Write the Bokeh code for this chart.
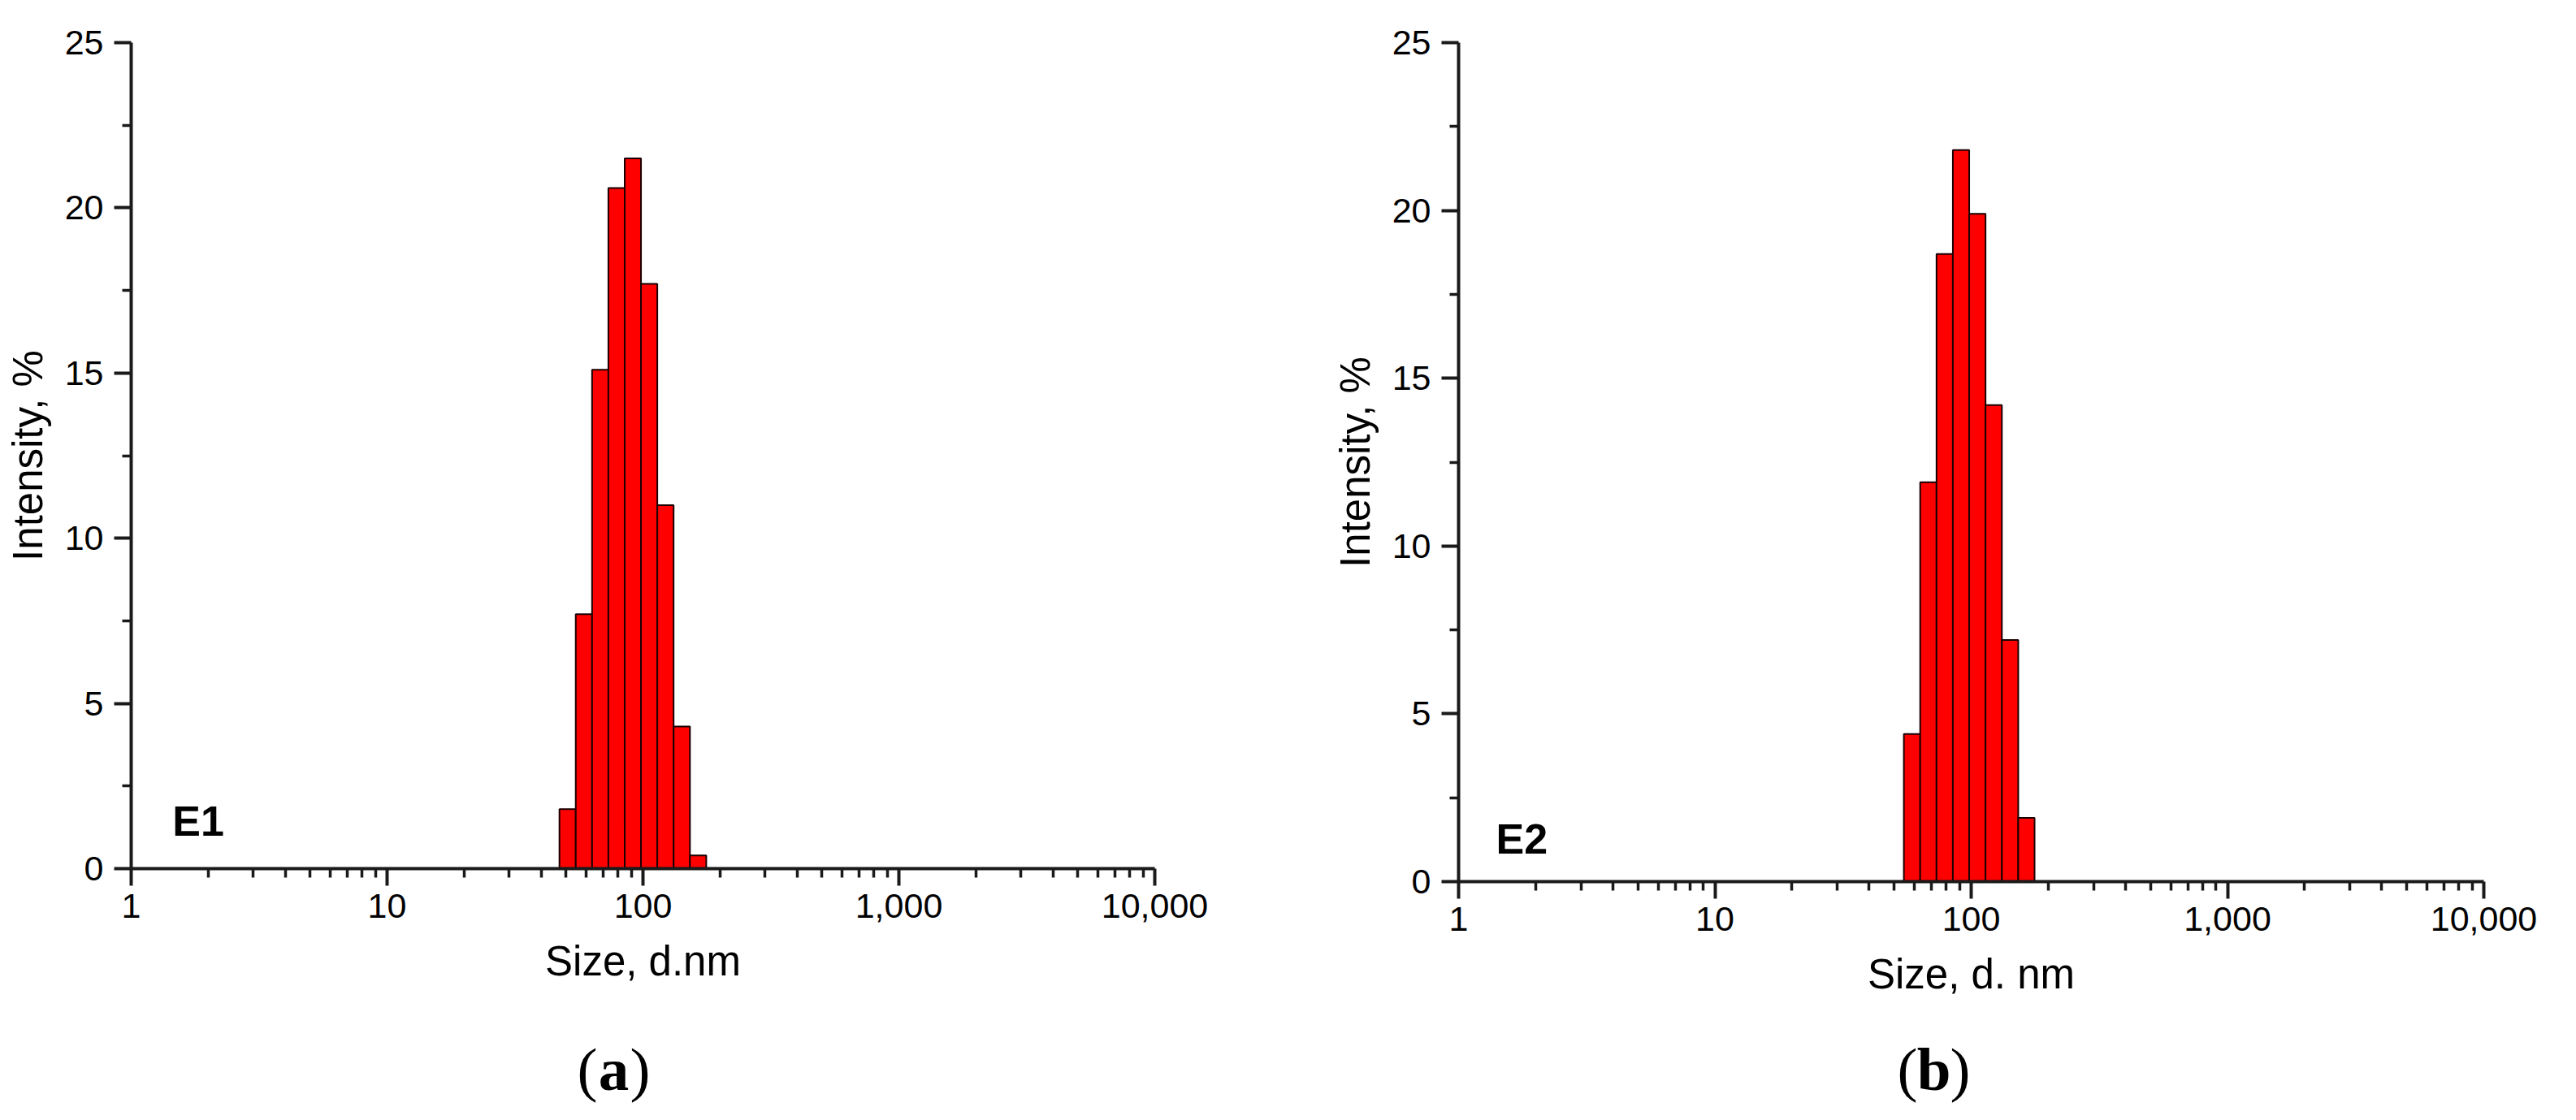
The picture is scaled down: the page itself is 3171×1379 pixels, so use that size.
import math
from bokeh.plotting import figure
from bokeh.models import Range1d, FixedTicker, NumeralTickFormatter, Label, ColumnDataSource
from bokeh.layouts import row, column
from bokeh.core.properties import value
from bokeh.embed import file_html
from bokeh.resources import INLINE

# ---- data ----
sizes_e1 = [50.75, 58.77, 68.06, 78.82, 91.28, 105.7, 122.4, 141.8, 164.2]
intensity_e1 = [1.8, 7.7, 15.1, 20.6, 21.5, 17.7, 11.0, 4.3, 0.4]
sizes_e2 = [58.77, 68.06, 78.82, 91.28, 105.7, 122.4, 141.8, 164.2]
intensity_e2 = [4.4, 11.9, 18.7, 21.8, 19.9, 14.2, 7.2, 1.9]

x_ticks = [1, 10, 100, 1000, 10000]
x_minor = [m * 10 ** k for k in range(4) for m in range(2, 10)]
y_ticks = [0, 5, 10, 15, 20, 25]
y_minor = [2.5, 7.5, 12.5, 17.5, 22.5]

sample_names = ["E1", "E2"]
panel_letters = ["a", "b"]
x_titles = ["Size, d.nm", "Size, d. nm"]
y_title = "Intensity, %"

SANS = "Liberation Sans"
SERIF = "Liberation Serif"
TOP_H = 1242      # height of the chart row
CAP_H = 121       # height of the caption row


def make_panel(sizes, vals, name, xtitle, frame_w, frame_h, top, right, name_xy):
    p = figure(x_axis_type="log", output_backend="svg", toolbar_location=None,
               frame_width=frame_w, frame_height=frame_h,
               min_border_left=161, min_border_top=top,
               min_border_bottom=TOP_H - top - frame_h, min_border_right=right,
               x_range=Range1d(1, 10000), y_range=Range1d(0, 25))
    p.outline_line_color = None
    p.xgrid.visible = False
    p.ygrid.visible = False
    p.background_fill_color = "white"
    p.border_fill_color = "white"

    ratio = math.sqrt(sizes[1] / sizes[0])
    src = ColumnDataSource(dict(
        left=[s / ratio for s in sizes],
        right=[s * ratio for s in sizes],
        top=vals,
        bottom=[0] * len(vals),
    ))
    p.quad(left="left", right="right", top="top", bottom="bottom", source=src,
           fill_color="#FF0000", line_color="#1a0000", line_width=2)

    p.xaxis.ticker = FixedTicker(ticks=x_ticks, minor_ticks=x_minor)
    p.xaxis.formatter = NumeralTickFormatter(format="0,0")
    p.yaxis.ticker = FixedTicker(ticks=y_ticks, minor_ticks=y_minor)

    for ax in (p.xaxis[0], p.yaxis[0]):
        ax.axis_line_width = 4
        ax.axis_line_color = "#1a1a1a"
        ax.major_tick_line_width = 4
        ax.minor_tick_line_width = 3.5
        ax.major_tick_line_color = "#1a1a1a"
        ax.minor_tick_line_color = "#1a1a1a"
        ax.major_tick_in = 0
        ax.major_tick_out = 21
        ax.minor_tick_in = 0
        ax.minor_tick_out = 11
        ax.major_label_text_font = SANS
        ax.major_label_text_font_size = "43px"
        ax.major_label_text_color = "#000000"
        ax.axis_label_text_font = SANS
        ax.axis_label_text_font_size = "51px"
        ax.axis_label_text_font_style = "normal"
        ax.axis_label_text_color = "#000000"

    p.xaxis.axis_label = xtitle
    p.yaxis.axis_label = y_title
    p.xaxis.major_label_standoff = 10
    p.yaxis.major_label_standoff = 13
    p.xaxis.axis_label_standoff = 22
    p.yaxis.axis_label_standoff = 14

    p.add_layout(Label(x=name_xy[0], y=name_xy[1], text=name, text_font=SANS,
                       text_font_size="52px", text_font_style="bold",
                       text_color="#000000", text_baseline="alphabetic",
                       text_align="left"))
    return p


def make_caption(letter, width, cx, cy):
    q = figure(width=width, height=CAP_H, output_backend="svg", toolbar_location=None,
               min_border=0, x_range=Range1d(0, width), y_range=Range1d(0, CAP_H),
               x_axis_location=None, y_axis_location=None)
    q.outline_line_color = None
    q.xgrid.visible = False
    q.ygrid.visible = False
    common = dict(text_font=value(SERIF), text_font_size="75px",
                  text_color="#000000", text_baseline="middle")
    q.text(x=[cx], y=[cy], text=[letter], text_align="center",
           text_font_style="bold", **common)
    q.text(x=[cx], y=[cy], text=["("], text_align="right", x_offset=-20, **common)
    q.text(x=[cx], y=[cy], text=[")"], text_align="left", x_offset=20, **common)
    return q


p1 = make_panel(sizes_e1, intensity_e1, sample_names[0], x_titles[0],
                1260, 1017, 52, 213, (1.45, 1.45))
p2 = make_panel(sizes_e2, intensity_e2, sample_names[1], x_titles[1],
                1262, 1033, 33, 80, (1.40, 1.28))

W1 = 161 + 1260 + 213
W2 = 161 + 1262 + 80
q1 = make_caption(panel_letters[0], W1, 755, 47)
q2 = make_caption(panel_letters[1], W2, 746, 47)

layout = column(row(p1, p2), row(q1, q2))
open("out.html", "w").write(file_html(layout, INLINE))
